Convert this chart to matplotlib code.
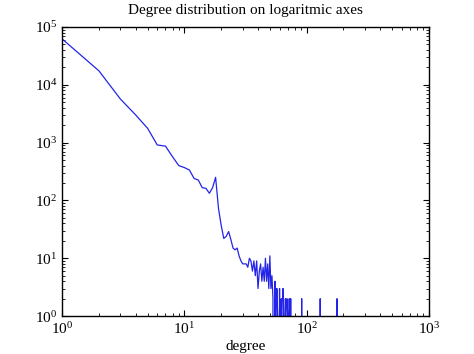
import matplotlib
matplotlib.use("Agg")
import matplotlib.pyplot as plt
import numpy as np

# degree distribution
degrees = list(range(1, 80)) + [90, 91, 92, 128, 129, 130, 176, 177, 178]
counts = [62000, 17400, 5650, 3000, 1770, 910, 870, 570, 400, 370,
          335, 240, 225, 166, 162, 133, 166, 251, 73, 37,
          22, 24, 29, 21, 15, 14, 15, 11, 9, 8,
          8, 8, 7, 10, 9, 6, 9, 5, 9, 3,
          6, 8, 4, 7, 4, 10, 4, 8, 3, 11,
          3, 5, 2, 0, 4, 0, 3, 1, 0, 3,
          0, 2, 0, 3, 1, 0, 2, 0, 2, 1,
          0, 2, 0, 2, 0, 0, 0, 0, 0,
          0, 2, 0, 0, 2, 0, 0, 2, 0]

plt.rcParams['font.family'] = ['Liberation Serif', 'DejaVu Serif']
plt.rcParams['mathtext.fontset'] = 'custom'
plt.rcParams['mathtext.rm'] = 'Liberation Serif'
plt.rcParams['mathtext.it'] = 'Liberation Serif:italic'

fig = plt.figure(figsize=(4.74, 3.54), dpi=100)
ax = fig.add_axes([0.131, 0.107, 0.774, 0.817])
ax.loglog(degrees, counts, color='#2424e8', lw=0.9)
ax.set_xlim(1, 1000)
ax.set_ylim(1, 1e5)
ax.set_title("Degree distribution on logaritmic axes", fontsize=11, pad=9)
ax.set_xlabel("degree", fontsize=11, labelpad=2)
ax.tick_params(which='both', direction='in', top=True, right=True, labelsize=11)
ax.tick_params(which='major', length=4)
ax.tick_params(which='minor', length=2)
for s in ax.spines.values():
    s.set_linewidth(1.0)

fig.savefig("out.png", dpi=100)
